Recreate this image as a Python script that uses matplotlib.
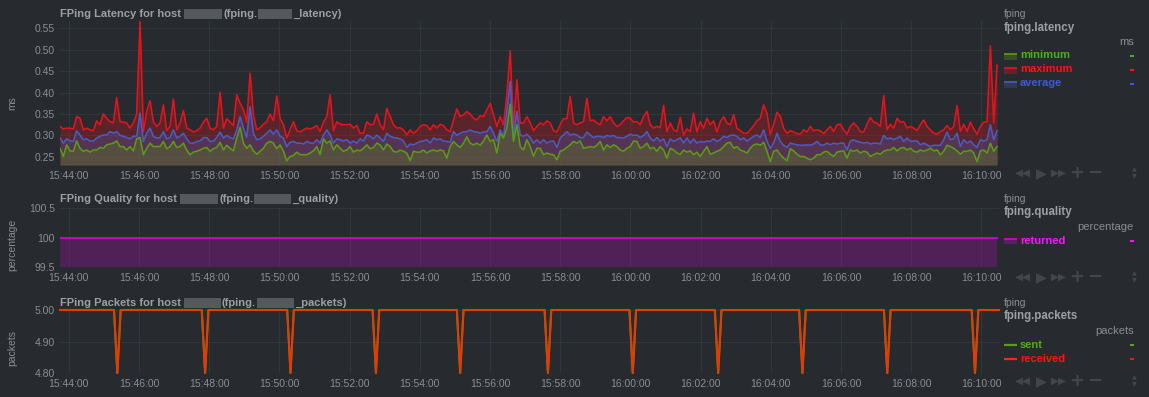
import numpy as np
import matplotlib
matplotlib.use('Agg')
import matplotlib.pyplot as plt
from matplotlib.ticker import FixedLocator, FuncFormatter
from matplotlib.patches import Rectangle
from matplotlib.lines import Line2D

# ------------------------------------------------------------------ data
sample_start = '15:43:45'
sample_step_s = 5.7
view_start = '15:43:45'
view_end = '16:10:30'

latency_maximum = [
    0.321, 0.315, 0.317, 0.317, 0.315, 0.344, 0.340, 0.313, 0.317, 0.313,
    0.311, 0.334, 0.325, 0.350, 0.340, 0.332, 0.329, 0.388, 0.332, 0.331,
    0.329, 0.317, 0.329, 0.350, 0.566, 0.309, 0.356, 0.381, 0.332, 0.321,
    0.329, 0.371, 0.311, 0.321, 0.385, 0.313, 0.329, 0.358, 0.317, 0.313,
    0.308, 0.311, 0.317, 0.331, 0.340, 0.317, 0.313, 0.321, 0.401, 0.317,
    0.339, 0.331, 0.323, 0.395, 0.375, 0.360, 0.331, 0.445, 0.348, 0.313,
    0.318, 0.326, 0.332, 0.350, 0.334, 0.392, 0.340, 0.325, 0.294, 0.313,
    0.332, 0.311,
    0.308, 0.313, 0.317, 0.315, 0.318, 0.323, 0.309, 0.331, 0.344, 0.395,
    0.311, 0.332, 0.326, 0.325, 0.325, 0.326, 0.317, 0.323, 0.305, 0.305,
    0.332, 0.325, 0.326, 0.350, 0.325, 0.313, 0.363, 0.344, 0.325, 0.317,
    0.318, 0.313, 0.301, 0.313, 0.305, 0.311, 0.321, 0.325, 0.323, 0.313,
    0.325, 0.317, 0.326, 0.323, 0.313, 0.309, 0.336, 0.362, 0.344, 0.348,
    0.356, 0.350, 0.340, 0.336, 0.346, 0.344, 0.360, 0.375, 0.348, 0.321,
    0.344, 0.325, 0.395, 0.497, 0.318, 0.430, 0.329, 0.329, 0.344, 0.329,
    0.311, 0.321,
    0.329, 0.325, 0.334, 0.329, 0.311, 0.308, 0.325, 0.339, 0.339, 0.391,
    0.329, 0.325, 0.329, 0.332, 0.387, 0.334, 0.336, 0.329, 0.325, 0.344,
    0.334, 0.344, 0.329, 0.321, 0.325, 0.334, 0.342, 0.340, 0.331, 0.332,
    0.325, 0.344, 0.356, 0.325, 0.317, 0.321, 0.318, 0.370, 0.309, 0.329,
    0.313, 0.309, 0.342, 0.301, 0.315, 0.309, 0.352, 0.308, 0.332, 0.317,
    0.340, 0.325, 0.334, 0.308, 0.332, 0.344, 0.329, 0.325, 0.348, 0.317,
    0.311, 0.305, 0.305, 0.313, 0.323, 0.334, 0.340, 0.371, 0.352, 0.303,
    0.325, 0.354,
    0.344, 0.317, 0.305, 0.311, 0.308, 0.304, 0.303, 0.313, 0.308, 0.321,
    0.311, 0.313, 0.311, 0.304, 0.313, 0.321, 0.309, 0.325, 0.326, 0.313,
    0.303, 0.321, 0.329, 0.321, 0.309, 0.308, 0.326, 0.342, 0.331, 0.329,
    0.321, 0.393, 0.313, 0.326, 0.317, 0.340, 0.331, 0.332, 0.317, 0.321,
    0.317, 0.311, 0.325, 0.336, 0.321, 0.313, 0.305, 0.303, 0.309, 0.313,
    0.323, 0.313, 0.321, 0.370, 0.309, 0.326, 0.309, 0.331, 0.315, 0.303,
    0.321, 0.331, 0.332, 0.509, 0.329, 0.464,
]

latency_average = [
    0.294, 0.282, 0.292, 0.287, 0.286, 0.311, 0.301, 0.290, 0.292, 0.287,
    0.287, 0.294, 0.298, 0.301, 0.301, 0.309, 0.305, 0.309, 0.300, 0.298,
    0.295, 0.292, 0.298, 0.298, 0.352, 0.286, 0.305, 0.317, 0.298, 0.294,
    0.295, 0.309, 0.292, 0.295, 0.313, 0.294, 0.298, 0.305, 0.292, 0.282,
    0.282, 0.286, 0.287, 0.295, 0.295, 0.286, 0.287, 0.295, 0.308, 0.294,
    0.300, 0.295, 0.292, 0.313, 0.344, 0.317, 0.295, 0.367, 0.305, 0.290,
    0.292, 0.298, 0.305, 0.313, 0.303, 0.313, 0.298, 0.294, 0.274, 0.284,
    0.286, 0.282,
    0.282, 0.280, 0.286, 0.282, 0.282, 0.290, 0.282, 0.301, 0.313, 0.301,
    0.282, 0.292, 0.290, 0.287, 0.290, 0.282, 0.287, 0.282, 0.292, 0.287,
    0.301, 0.298, 0.292, 0.301, 0.294, 0.286, 0.305, 0.298, 0.295, 0.294,
    0.292, 0.287, 0.272, 0.280, 0.278, 0.282, 0.286, 0.287, 0.290, 0.282,
    0.294, 0.290, 0.292, 0.287, 0.286, 0.284, 0.309, 0.300, 0.305, 0.308,
    0.309, 0.313, 0.309, 0.308, 0.305, 0.308, 0.309, 0.321, 0.305, 0.286,
    0.313, 0.298, 0.356, 0.426, 0.300, 0.356, 0.301, 0.298, 0.303, 0.295,
    0.282, 0.290,
    0.282, 0.290, 0.282, 0.286, 0.287, 0.272, 0.294, 0.301, 0.309, 0.301,
    0.303, 0.301, 0.295, 0.295, 0.308, 0.301, 0.295, 0.298, 0.298, 0.295,
    0.300, 0.298, 0.300, 0.295, 0.295, 0.294, 0.298, 0.303, 0.300, 0.301,
    0.295, 0.300, 0.309, 0.294, 0.287, 0.295, 0.286, 0.292, 0.274, 0.292,
    0.286, 0.290, 0.294, 0.282, 0.294, 0.282, 0.292, 0.282, 0.286, 0.284,
    0.287, 0.286, 0.292, 0.286, 0.290, 0.298, 0.295, 0.300, 0.301, 0.298,
    0.290, 0.294, 0.287, 0.292, 0.298, 0.301, 0.295, 0.313, 0.287, 0.270,
    0.282, 0.305,
    0.286, 0.277, 0.272, 0.282, 0.280, 0.278, 0.277, 0.277, 0.278, 0.277,
    0.280, 0.286, 0.278, 0.277, 0.282, 0.278, 0.282, 0.280, 0.282, 0.282,
    0.266, 0.287, 0.290, 0.286, 0.284, 0.282, 0.284, 0.280, 0.282, 0.282,
    0.280, 0.300, 0.292, 0.294, 0.290, 0.294, 0.298, 0.286, 0.294, 0.286,
    0.287, 0.287, 0.278, 0.282, 0.278, 0.274, 0.277, 0.277, 0.277, 0.290,
    0.308, 0.290, 0.292, 0.305, 0.274, 0.290, 0.282, 0.287, 0.278, 0.272,
    0.290, 0.287, 0.290, 0.325, 0.290, 0.311,
]

latency_minimum = [
    0.270, 0.251, 0.278, 0.264, 0.263, 0.287, 0.270, 0.263, 0.266, 0.261,
    0.266, 0.266, 0.272, 0.270, 0.278, 0.280, 0.282, 0.287, 0.274, 0.274,
    0.266, 0.274, 0.264, 0.292, 0.295, 0.255, 0.270, 0.282, 0.274, 0.274,
    0.274, 0.286, 0.269, 0.274, 0.286, 0.272, 0.274, 0.282, 0.266, 0.255,
    0.261, 0.263, 0.266, 0.270, 0.272, 0.263, 0.269, 0.272, 0.284, 0.266,
    0.277, 0.270, 0.264, 0.294, 0.319, 0.282, 0.270, 0.278, 0.264, 0.256,
    0.263, 0.270, 0.282, 0.286, 0.282, 0.269, 0.278, 0.263, 0.241, 0.251,
    0.253, 0.261,
    0.255, 0.255, 0.255, 0.259, 0.264, 0.274, 0.255, 0.292, 0.282, 0.287,
    0.266, 0.278, 0.270, 0.263, 0.266, 0.274, 0.261, 0.266, 0.264, 0.270,
    0.278, 0.269, 0.272, 0.282, 0.278, 0.266, 0.280, 0.274, 0.263, 0.261,
    0.266, 0.263, 0.259, 0.241, 0.263, 0.261, 0.261, 0.266, 0.259, 0.264,
    0.266, 0.263, 0.266, 0.264, 0.247, 0.274, 0.286, 0.278, 0.272, 0.282,
    0.297, 0.282, 0.278, 0.282, 0.277, 0.287, 0.301, 0.286, 0.290, 0.259,
    0.305, 0.294, 0.317, 0.373, 0.286, 0.325, 0.274, 0.266, 0.290, 0.274,
    0.251, 0.270,
    0.270, 0.255, 0.259, 0.256, 0.255, 0.243, 0.263, 0.266, 0.272, 0.278,
    0.286, 0.282, 0.287, 0.270, 0.272, 0.274, 0.272, 0.277, 0.286, 0.266,
    0.278, 0.272, 0.278, 0.274, 0.266, 0.263, 0.270, 0.274, 0.287, 0.286,
    0.270, 0.274, 0.282, 0.269, 0.272, 0.263, 0.274, 0.266, 0.247, 0.270,
    0.266, 0.259, 0.256, 0.266, 0.261, 0.264, 0.255, 0.261, 0.251, 0.263,
    0.274, 0.256, 0.259, 0.263, 0.266, 0.274, 0.282, 0.284, 0.270, 0.274,
    0.266, 0.263, 0.259, 0.270, 0.278, 0.280, 0.277, 0.284, 0.263, 0.239,
    0.263, 0.266,
    0.255, 0.247, 0.241, 0.269, 0.264, 0.256, 0.251, 0.251, 0.247, 0.243,
    0.247, 0.255, 0.255, 0.261, 0.263, 0.256, 0.251, 0.261, 0.263, 0.264,
    0.247, 0.266, 0.263, 0.266, 0.259, 0.263, 0.261, 0.251, 0.255, 0.259,
    0.256, 0.263, 0.266, 0.266, 0.272, 0.264, 0.270, 0.272, 0.266, 0.270,
    0.263, 0.261, 0.266, 0.263, 0.266, 0.270, 0.264, 0.266, 0.255, 0.263,
    0.277, 0.274, 0.270, 0.264, 0.256, 0.263, 0.263, 0.266, 0.259, 0.239,
    0.264, 0.266, 0.259, 0.282, 0.263, 0.274,
]

quality_returned = 100.0          # percentage, constant over the window

packets_normal = 5.00             # sent and received outside the dips
packets_dip_times = ['15:45:23', '15:47:53', '15:50:19', '15:52:45', '15:55:09',
                     '15:57:39', '16:00:04', '16:02:30', '16:04:54', '16:07:19',
                     '16:09:49']
packets_sent_dip = 4.80
packets_received_dip = 4.80

time_ticks = ['15:44:00', '15:46:00', '15:48:00', '15:50:00', '15:52:00', '15:54:00',
              '15:56:00', '15:58:00', '16:00:00', '16:02:00', '16:04:00', '16:06:00',
              '16:08:00', '16:10:00']
latency_ticks = [0.25, 0.30, 0.35, 0.40, 0.45, 0.50, 0.55]
quality_ticks = [99.5, 100.0, 100.5]
packets_ticks = [4.80, 4.90, 5.00]

latency_range = (0.231, 0.567)
quality_range = (99.5, 100.5)
packets_range = (4.80, 5.00)

# ------------------------------------------------------------------ style
W, H = 1149, 397
BG = '#272b30'
GRID = '#2e373a'
TICK = '#8a8e93'
TITLE = '#9c9fa3'
BLUR = '#55595e'
CTRL = '#42474d'
RED, BLUE, GREEN = '#e5141c', '#4a5cc0', '#5a9c14'
RED_T, BLUE_T, GREEN_T = '#ff1212', '#3c5ad2', '#4eae1a'
MAG, MAG_T = '#e000e0', '#ff10ff'
PRED = '#ff2a00'

plt.rcParams['font.family'] = ['Liberation Sans', 'DejaVu Sans']


def to_sec(s):
    h, m, sec = (int(v) for v in s.split(':'))
    return h * 3600 + m * 60 + sec


def hms(v, pos=None):
    v = int(round(v))
    return f"{v // 3600:02d}:{(v % 3600) // 60:02d}:{v % 60:02d}"


t0, t1 = to_sec(view_start), to_sec(view_end)
tick_secs = [to_sec(s) for s in time_ticks]
n = len(latency_maximum)
t_lat = to_sec(sample_start) + np.arange(n) * sample_step_s

fig = plt.figure(figsize=(W / 100, H / 100), dpi=100, facecolor=BG)


def fx(x):
    return x / W


def fy(y):
    return 1 - y / H


def px_ax(top, bottom, ylim, yticks, yfmt):
    ax = fig.add_axes([fx(60), fy(bottom), (999 - 60) / W, (bottom - top) / H])
    ax.set_facecolor(BG)
    for s in ax.spines.values():
        s.set_visible(False)
    ax.tick_params(length=0, colors=TICK, labelsize=7.5)
    ax.tick_params(axis='x', pad=4.2)
    ax.tick_params(axis='y', pad=3.6)
    ax.grid(True, color=GRID, lw=0.8)
    ax.set_axisbelow(True)
    ax.set_xlim(t0, t1)
    ax.set_ylim(*ylim)
    ax.xaxis.set_major_locator(FixedLocator(tick_secs))
    ax.xaxis.set_major_formatter(FuncFormatter(hms))
    ax.yaxis.set_major_locator(FixedLocator(yticks))
    ax.yaxis.set_major_formatter(FuncFormatter(yfmt))
    return ax


# ---- latency
ax1 = px_ax(21, 165, latency_range, latency_ticks, lambda v, p: f"{v:.2f}")
base = latency_range[0]
for vals, col in [(latency_maximum, RED), (latency_average, BLUE), (latency_minimum, GREEN)]:
    ax1.fill_between(t_lat, base, vals, color=col, alpha=0.27, lw=0)
for vals, col in [(latency_maximum, RED), (latency_average, BLUE), (latency_minimum, GREEN)]:
    ax1.plot(t_lat, vals, color=col, lw=1.15)

# ---- quality
ax2 = px_ax(208, 267, quality_range, quality_ticks, lambda v, p: f"{v:g}")
q = np.full(n, quality_returned)
ax2.fill_between(t_lat, quality_range[0], q, color=MAG, alpha=0.22, lw=0)
ax2.plot(t_lat, q, color=MAG, lw=1.2)

# ---- packets
ax3 = px_ax(310, 373, packets_range, packets_ticks, lambda v, p: f"{v:.2f}")


def dip_series(dip_value, half):
    tt, vv = [t0], [packets_normal]
    for d in packets_dip_times:
        ds = to_sec(d)
        tt += [ds - half, ds, ds + half]
        vv += [packets_normal, dip_value, packets_normal]
    tt.append(t1)
    vv.append(packets_normal)
    return tt, vv


st, sv = dip_series(packets_sent_dip, sample_step_s)
rt, rv = dip_series(packets_received_dip, sample_step_s)
ax3.plot(st, sv, color=GREEN, lw=1.5, clip_on=False)
ax3.plot(rt, rv, color=PRED, lw=1.4, alpha=0.88, clip_on=False)

# ---- titles with blurred host names
renderer = fig.canvas.get_renderer()


def title(y, pieces):
    x = 60
    for p in pieces:
        if isinstance(p, str):
            txt = fig.text(fx(x), fy(y), p, color=TITLE, fontsize=8, fontweight='bold',
                           va='center', ha='left')
            x = txt.get_window_extent(renderer).x1
        else:
            gap, w = p
            x += gap
            fig.add_artist(Rectangle((fx(x), fy(y + 5)), w / W, 10 / H,
                                     transform=fig.transFigure, facecolor=BLUR,
                                     edgecolor='none'))
            x += w + 1


title(14, ['FPing Latency for host', (3, 38), '(fping.', (1, 34), '_latency)'])
title(199, ['FPing Quality for host', (3, 38), '(fping.', (1, 37), '_quality)'])
title(303, ['FPing Packets for host', (3, 37), '(fping.', (1, 37), '_packets)'])

# ---- y axis labels
for y, s in [(103, 'ms'), (245, 'percentage'), (348, 'packets')]:
    fig.text(fx(12), fy(y), s, rotation=90, va='center', ha='center', color=TICK, fontsize=7.5)


# ---- right side legends
def hline(x0, x1, y, col, lw):
    fig.add_artist(Line2D([fx(x0), fx(x1)], [fy(y), fy(y)], transform=fig.transFigure,
                          color=col, lw=lw, solid_capstyle='butt'))


def panel(y0, name, units, rows, y_ctrl, boxed):
    fig.text(fx(1004), fy(y0), 'fping', color=TICK, fontsize=7.5, va='center', ha='left')
    fig.text(fx(1004), fy(y0 + 13.5), name, color=TITLE, fontsize=8.3, fontweight='bold',
             va='center', ha='left')
    fig.text(fx(1134), fy(y0 + 28), units, color=TICK, fontsize=8, va='center', ha='right')
    for i, (lab, lcol, tcol) in enumerate(rows):
        y = y0 + 41.5 + i * 14
        if boxed:
            fig.add_artist(Rectangle((fx(1004), fy(y + 4)), 13 / W, 5.5 / H,
                                     transform=fig.transFigure, facecolor=lcol,
                                     alpha=0.3, edgecolor='none'))
            hline(1004, 1017, y - 1.3, lcol, 1.2)
        else:
            hline(1004, 1017, y, lcol, 1.6)
        fig.text(fx(1020), fy(y), lab, color=tcol, fontsize=8, fontweight='bold',
                 va='center', ha='left')
        hline(1130, 1133.5, y, tcol, 1.5)
    kw = dict(color=CTRL, va='center', ha='center', family='DejaVu Sans')
    fig.text(fx(1023), fy(y_ctrl), '\u25C0\u25C0', fontsize=7.5, **kw)
    fig.text(fx(1041), fy(y_ctrl), '\u25B6', fontsize=10, **kw)
    fig.text(fx(1059), fy(y_ctrl), '\u25B6\u25B6', fontsize=7.5, **kw)
    fig.text(fx(1077), fy(y_ctrl), '+', fontsize=13, fontweight='bold', **kw)
    fig.text(fx(1095), fy(y_ctrl), '\u2212', fontsize=13, fontweight='bold', **kw)
    fig.text(fx(1134), fy(y_ctrl - 3.6), '\u25B2', fontsize=4.5, **kw)
    fig.text(fx(1134), fy(y_ctrl + 3.6), '\u25BC', fontsize=4.5, **kw)


panel(14, 'fping.latency', 'ms',
      [('minimum', GREEN, GREEN_T), ('maximum', RED, RED_T), ('average', BLUE, BLUE_T)],
      173, True)
panel(199, 'fping.quality', 'percentage', [('returned', MAG, MAG_T)], 277, True)
panel(303, 'fping.packets', 'packets',
      [('sent', GREEN, GREEN_T), ('received', PRED, RED_T)], 381, False)

fig.savefig('out.png', dpi=100, facecolor=BG)
